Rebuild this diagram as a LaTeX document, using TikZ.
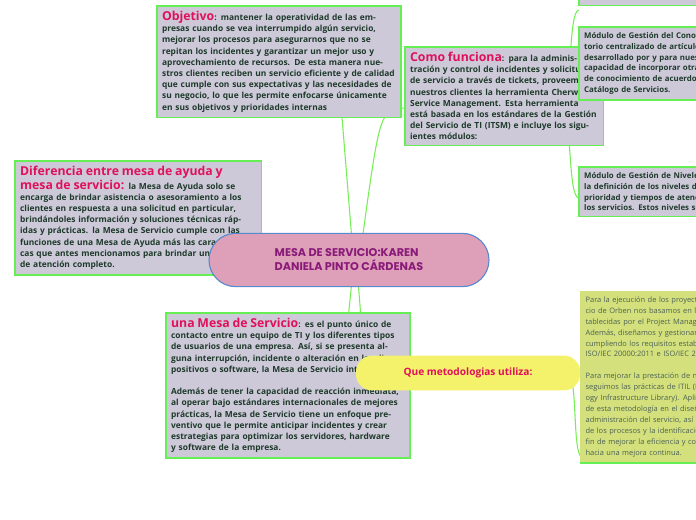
\documentclass[tikz,border=0pt]{standalone}
\usepackage{fontspec}
\setmainfont{Open Sans}
\newfontfamily\titlefont{Poppins}
\usetikzlibrary{positioning}
\definecolor{boxfill}{HTML}{CDC9D9}
\definecolor{boxline}{HTML}{66EE55}
\definecolor{txt}{HTML}{1E3A2A}
\definecolor{hd}{HTML}{E0105A}
\definecolor{link}{HTML}{77EE55}
\definecolor{metfill}{HTML}{D4E07C}
\definecolor{pill}{HTML}{F4F26A}
\definecolor{cfill}{HTML}{DDA0B8}
\definecolor{cline}{HTML}{5588CC}
\definecolor{ctext}{HTML}{8A1A7A}
\tikzset{
 topic/.style={draw=boxline,line width=1.2pt,fill=boxfill,anchor=north west,inner sep=4pt,text=txt,font=\fontsize{6.3}{8.4}\selectfont\bfseries,align=left},
 rbox/.style={draw=boxline,line width=1.2pt,fill=boxfill,anchor=north west,inner sep=4pt,text=txt,font=\fontsize{5.9}{8.2}\selectfont\bfseries,align=left},
 conn/.style={draw=link,line width=0.8pt},
}
\newcommand{\hdr}[1]{{\color{hd}\fontsize{9.2}{11}\selectfont\mdseries\bfseries #1}}
\begin{document}
\begin{tikzpicture}[x=0.75pt,y=-0.75pt]
\useasboundingbox (0,0) rectangle (696,520);
\clip (0,0) rectangle (696,520);
\fill[white] (0,0) rectangle (696,520);
% connectors
\coordinate (cr) at (563,110);
\coordinate (mr) at (568,375);
\draw[conn] (352,241) .. controls (345,160) .. (339,80);
\draw[conn] (362,241) .. controls (380,110) .. (405,108);
\draw[conn] (275,241) .. controls (240,232) .. (199,230);
\draw[conn] (352,280) -- (348,320);
\draw[conn] (358,280) .. controls (365,370) .. (385,373);
\draw[conn] (552,110) -- (cr);
\draw[conn] (cr) .. controls (572,100) and (568,10) .. (579,10);
\draw[conn] (cr) .. controls (572,100) and (568,68) .. (579,68);
\draw[conn] (cr) .. controls (572,120) and (568,198) .. (579,198);
\draw[conn] (552,373) -- (mr);
\draw[conn] (mr) .. controls (578,375) and (572,455) .. (582,457);
% nodes
\node[topic,text width=175] (obj) at (156,5) {\hdr{Objetivo}: mantener la operatividad de las empresas cuando se vea interrumpido algún servicio, mejorar los procesos para asegurarnos que no se repitan los incidentes y garantizar un mejor uso y aprovechamiento de recursos. De esta manera nuestros clientes reciben un servicio eficiente y de calidad que cumple con sus expectativas y las necesidades de su negocio, lo que les permite enfocarse únicamente en sus objetivos y prioridades internas};
\node[topic,text width=177] (dif) at (14,160) {\hdr{Diferencia entre mesa de ayuda y mesa de servicio:} la Mesa de Ayuda solo se encarga de brindar asistencia o asesoramiento a los clientes en respuesta a una solicitud en particular, brindándoles información y soluciones técnicas rápidas y prácticas. la Mesa de Servicio cumple con las funciones de una Mesa de Ayuda más las características que antes mencionamos para brindar un servicio de atención completo.};
\node[topic,text width=175] (una) at (165,312) {\hdr{una Mesa de Servicio}: es el punto único de contacto entre un equipo de TI y los diferentes tipos de usuarios de una empresa. Así, si se presenta alguna interrupción, incidente o alteración en los dispositivos o software, la Mesa de Servicio interviene.\\[8.4pt]Además de tener la capacidad de reacción inmediata, al operar bajo estándares internacionales de mejores prácticas, la Mesa de Servicio tiene un enfoque preventivo que le permite anticipar incidentes y crear estrategias para optimizar los servidores, hardware y software de la empresa.};
\node[topic,text width=141] (como) at (404,46) {\hdr{Como funciona}: para la administración y control de incidentes y solicitudes de servicio a través de tickets, proveemos a nuestros clientes la herramienta Cherwell Service Management. Esta herramienta está basada en los estándares de la Gestión del Servicio de TI (ITSM) e incluye los siguientes módulos:};
\node[rbox,text width=150] (r1) at (578,-14) {en los procedimientos operativos de la empresa.};
\node[rbox,text width=150] (r2) at (578,26) {Módulo de Gestión del Conocimiento: Repositorio centralizado de artículos de conocimiento desarrollado por y para nuestro cliente, con la capacidad de incorporar otras fuentes externas de conocimiento de acuerdo con lo definido en el Catálogo de Servicios.};
\node[rbox,text width=150] (r3) at (578,166) {Módulo de Gestión de Niveles de Servicio: Incluye la definición de los niveles de servicio, niveles de prioridad y tiempos de atención para cada uno de los servicios. Estos niveles son:};
\node[anchor=north west,fill=metfill,inner sep=4pt,text width=150,text=txt!80,font=\fontsize{5.6}{8.2}\selectfont,align=left] (met) at (580,291) {Para la ejecución de los proyectos de Mesa de Servicio de Orben nos basamos en las mejores prácticas establecidas por el Project Management Institute (PMI). Además, diseñamos y gestionamos nuestros servicios cumpliendo los requisitos establecidos en las normas ISO/IEC 20000:2011 e ISO/IEC 27000:2013.\\[8.2pt]Para mejorar la prestación de nuestros servicios, seguimos las prácticas de ITIL (Information Technology Infrastructure Library). Aplicamos los estándares de esta metodología en el diseño, control, operación y administración del servicio, así como la reestructuración de los procesos y la identificación de carencias con el fin de mejorar la eficiencia y conducir a la organización hacia una mejora continua.};
\draw[boxline,line width=1.2pt] (met.south west) -- (met.south east);
\node[draw=cline,line width=0.8pt,fill=cfill,rounded corners=20,minimum width=210,minimum height=40,text=ctext,font=\titlefont\fontsize{8.4}{10.5}\selectfont\bfseries,align=left] (c) at (349,260) {MESA DE SERVICIO:KAREN\\DANIELA PINTO CÁRDENAS};
\node[fill=pill,rounded corners=12,minimum width=168,minimum height=26,text=hd,font=\fontsize{7.6}{9}\selectfont\bfseries] (q) at (468,373) {Que metodologias utiliza:};
\end{tikzpicture}
\end{document}
